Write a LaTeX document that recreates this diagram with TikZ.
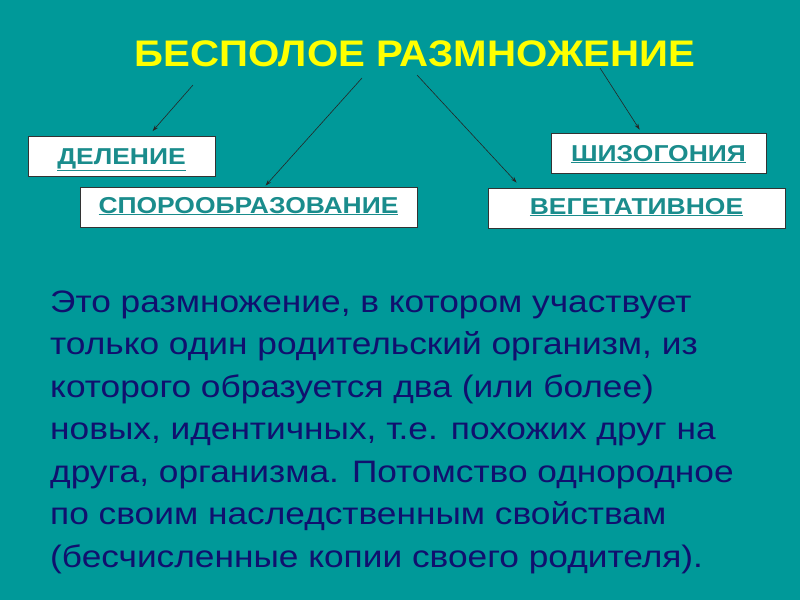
\documentclass[tikz,border=0pt]{standalone}
\usepackage{fontspec}
\setmainfont{Liberation Sans}
\usetikzlibrary{arrows.meta}
\definecolor{bg}{HTML}{009999}
\definecolor{ttl}{HTML}{FFFF00}
\definecolor{boxtxt}{HTML}{1A8C8C}
\definecolor{body}{HTML}{10106E}
\tikzset{
  ttlstyle/.style={font=\fontsize{37}{40}\selectfont\bfseries, text=ttl, inner sep=0pt, anchor=base},
  boxstyle/.style={draw=black!80, line width=0.8pt, fill=white, minimum height=40pt, inner sep=0pt,
     font=\fontsize{23}{25}\selectfont\bfseries, text=boxtxt},
  bodyline/.style={font=\fontsize{31}{34}\selectfont, text=body, inner sep=0pt, anchor=base west},
  arr/.style={-{Stealth[length=6pt,width=4pt]}, line width=0.6pt, draw=black!85},
}
\newcommand{\ul}[2][-8pt]{\raisebox{#1}[0pt][0pt]{\scalebox{1.15}[1]{\underline{#2}}}}
\newcommand{\bl}[1]{\scalebox{1.138}[1]{#1}}
\begin{document}
\begin{tikzpicture}[x=1pt,y=-1pt]
\fill[bg] (0,0) rectangle (800,600);
\useasboundingbox (0,0) rectangle (800,600);
\node[ttlstyle] (title) at (415,66.5) {\scalebox{1.087}[1]{БЕСПОЛОЕ РАЗМНОЖЕНИЕ}};
\node[boxstyle, minimum width=187pt] (del) at (121.5,156.5) {\ul{ДЕЛЕНИЕ}};
\node[boxstyle, minimum width=337pt] (spor) at (248.5,207) {\ul[-6pt]{СПОРООБРАЗОВАНИЕ}};
\node[boxstyle, minimum width=215pt] (shiz) at (658.5,153) {\ul{ШИЗОГОНИЯ}};
\node[boxstyle, minimum width=297pt] (veg) at (636.5,208) {\ul[-6pt]{ВЕГЕТАТИВНОЕ}};
\coordinate (s1) at (193,85);
\coordinate (s2) at (362,78);
\coordinate (s3) at (417,75);
\coordinate (s4) at (600,68);
\draw[arr] (s1) -- ([shift={(125,-5)}]del.north west);
\draw[arr] (s2) -- ([shift={(186,-1)}]spor.north west);
\draw[arr] (s3) -- ([shift={(29,-5)}]veg.north west);
\draw[arr] (s4) -- ([shift={(89,-3)}]shiz.north west);
\node[bodyline] (l1) at (50,312) {\bl{Это размножение, в котором участвует}};
\node[bodyline] (l2) at (50,354.5) {\bl{только один родительский организм, из}};
\node[bodyline] (l3) at (50,397) {\bl{которого образуется два (или более)}};
\node[bodyline] (l4) at (50,439.5) {\bl{новых, идентичных, т.е. похожих друг на}};
\node[bodyline] (l5) at (50,482) {\bl{друга, организма. Потомство однородное}};
\node[bodyline] (l6) at (50,524.5) {\bl{по своим наследственным свойствам}};
\node[bodyline] (l7) at (50,567) {\bl{(бесчисленные копии своего родителя).}};
\end{tikzpicture}
\end{document}
